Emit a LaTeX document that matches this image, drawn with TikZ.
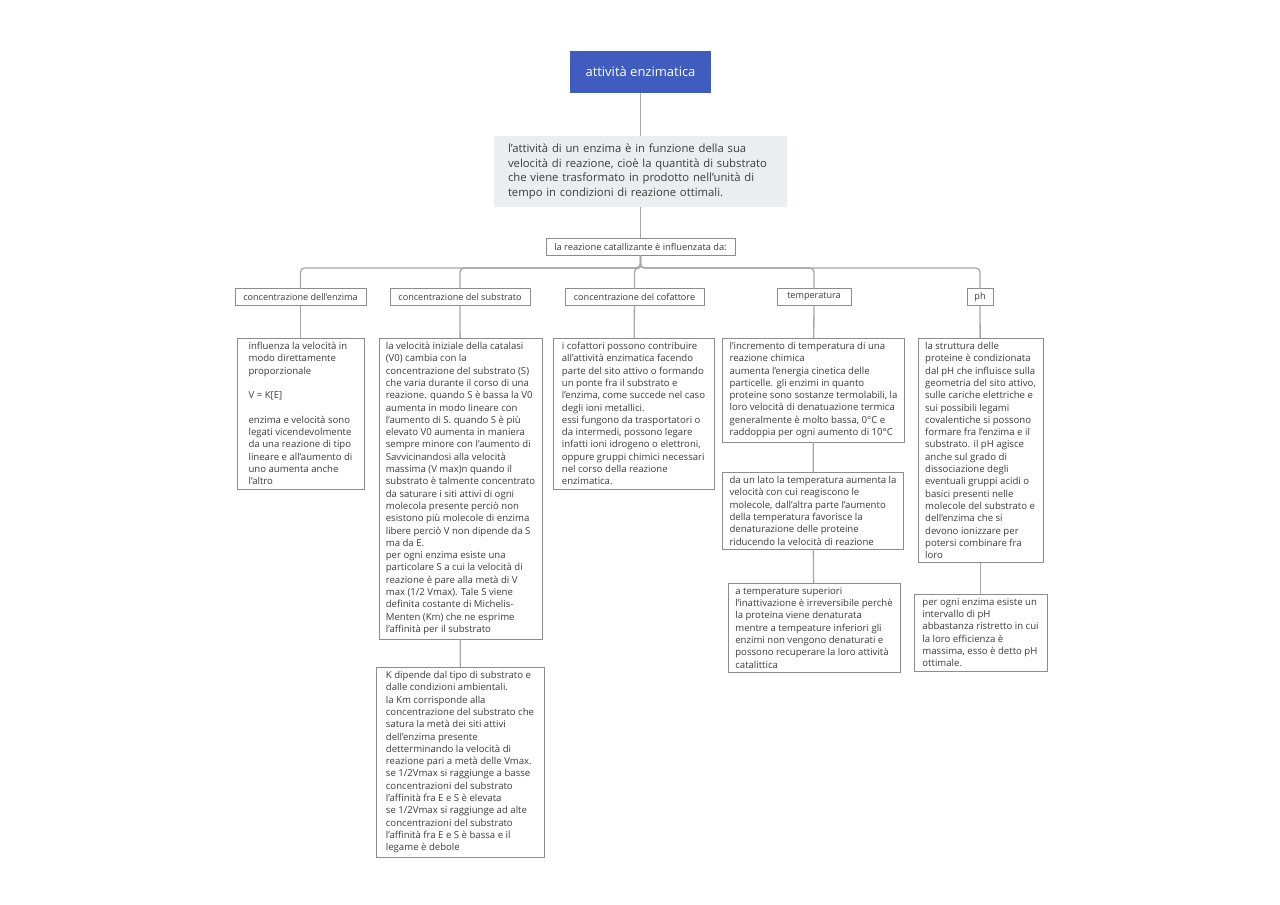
\documentclass[tikz,border=0pt]{standalone}
\usepackage{fontspec}
\setmainfont{Open Sans}
\definecolor{titleblue}{RGB}{64,92,190}
\definecolor{introgray}{RGB}{236,237,241}
\definecolor{boxgray}{RGB}{140,140,140}
\definecolor{linegray}{RGB}{166,166,166}
\definecolor{txtgray}{RGB}{60,60,60}
\begin{document}
\begin{tikzpicture}[x=1pt,y=-1pt,
        title/.style={rectangle,fill=titleblue,text=white,inner sep=0pt,
          minimum width=141pt,minimum height=42pt,font=\fontsize{13}{15}\selectfont},
        intro/.style={rectangle,fill=introgray,text=txtgray,align=left,anchor=north,
          inner xsep=14pt,inner ysep=8pt,text width=265pt,font=\fontsize{11.3}{14.5}\selectfont},
        tag/.style={rectangle,draw=boxgray,fill=white,text=txtgray,inner sep=0pt,
          minimum height=17pt,font=\fontsize{9.1}{11}\selectfont},
        note/.style={rectangle,draw=boxgray,fill=white,text=txtgray,align=left,anchor=north,
          inner xsep=7pt,inner ysep=4pt,font=\fontsize{9.6}{12.3}\selectfont},
        conn/.style={draw=linegray,line width=1.3pt}]
      \useasboundingbox (0,0) rectangle (1280,905);
      % root and intro
      \node (root) at (640.5,72) [title] {attività enzimatica};
      \node (intro) at (640.5,136) [intro] {l'attività di un enzima è in funzione della sua\\
        velocità di reazione, cioè la quantità di substrato\\
        che viene trasformato in prodotto nell'unità di\\
        tempo in condizioni di reazione ottimali.};
      \node (lab) at (640.5,247) [tag,minimum width=189pt,font=\fontsize{9.3}{11}\selectfont] {la reazione catallizante è influenzata da:};
      \coordinate (bus) at (640.5,268);
      % factors
      \node (hE) at (300.5,297) [tag,minimum width=131pt] {concentrazione dell'enzima};
      \node (hS) at (460,297) [tag,minimum width=140pt] {concentrazione del substrato};
      \node (hC) at (634.5,297) [tag,minimum width=139pt] {concentrazione del cofattore};
      \node (hT) at (814,297) [tag,minimum width=74pt] {temperatura};
      \node (hP) at (980,297) [tag,minimum width=26pt] {ph};
      % notes
      \node (bE) at (300.5,338) [note,minimum width=127pt] {influenza la velocità in\\
        modo direttamente\\
        proporzionale\\[12.3pt]
        V = K[E]\\[12.3pt]
        enzima e velocità sono\\
        legati vicendevolmente\\
        da una reazione di tipo\\
        lineare e all'aumento di\\
        uno aumenta anche\\
        l'altro};
      \node (bS1) at (460.5,338) [note,minimum width=161pt] {la velocità iniziale della catalasi\\
        (V0) cambia con la\\
        concentrazione del substrato (S)\\
        che varia durante il corso di una\\
        reazione. quando S è bassa la V0\\
        aumenta in modo lineare con\\
        l'aumento di S. quando S è più\\
        elevato V0 aumenta in maniera\\
        sempre minore con l'aumento di\\
        Savvicinandosi alla velocità\\
        massima (V max)n quando il\\
        substrato è talmente concentrato\\
        da saturare i siti attivi di ogni\\
        molecola presente perciò non\\
        esistono più molecole di enzima\\
        libere perciò V non dipende da S\\
        ma da E.\\
        per ogni enzima esiste una\\
        particolare S a cui la velocità di\\
        reazione è pare alla metà di V\\
        max (1/2 Vmax). Tale S viene\\
        definita costante di Michelis-\\
        Menten (Km) che ne esprime\\
        l'affinità per il substrato};
      \node (bS2) at (460,667) [note,minimum width=168pt] {K dipende dal tipo di substrato e\\
        dalle condizioni ambientali.\\
        la Km corrisponde alla\\
        concentrazione del substrato che\\
        satura la metà dei siti attivi\\
        dell'enzima presente\\
        detterminando la velocità di\\
        reazione pari a metà delle Vmax.\\
        se 1/2Vmax si raggiunge a basse\\
        concentrazioni del substrato\\
        l'affinità fra E e S è elevata\\
        se 1/2Vmax si raggiunge ad alte\\
        concentrazioni del substrato\\
        l'affinità fra E e S è bassa e il\\
        legame è debole};
      \node (bC) at (633.5,338) [note,minimum width=161pt] {i cofattori possono contribuire\\
        all'attività enzimatica facendo\\
        parte del sito attivo o formando\\
        un ponte fra il substrato e\\
        l'enzima, come succede nel caso\\
        degli ioni metallici.\\
        essi fungono da trasportatori o\\
        da intermedi, possono legare\\
        infatti ioni idrogeno o elettroni,\\
        oppure gruppi chimici necessari\\
        nel corso della reazione\\
        enzimatica.};
      \node (bT1) at (813.5,338) [note,minimum width=179pt] {l'incremento di temperatura di una\\
        reazione chimica\\
        aumenta l'energia cinetica delle\\
        particelle. gli enzimi in quanto\\
        proteine sono sostanze termolabili, la\\
        loro velocità di denatuazione termica\\
        generalmente è molto bassa, 0°C e\\
        raddoppia per ogni aumento di 10°C};
      \node (bT2) at (813,472) [note,minimum width=178pt] {da un lato la temperatura aumenta la\\
        velocità con cui reagiscono le\\
        molecole, dall'altra parte l'aumento\\
        della temperatura favorisce la\\
        denaturazione delle proteine\\
        riducendo la velocità di reazione};
      \node (bT3) at (814,583) [note,minimum width=172pt] {a temperature superiori\\
        l'inattivazione è irreversibile perchè\\
        la proteina viene denaturata\\
        mentre a tempeature inferiori gli\\
        enzimi non vengono denaturati e\\
        possono recuperare la loro attività\\
        catalittica};
      \node (bP1) at (980.5,338) [note,minimum width=125pt] {la struttura delle\\
        proteine è condizionata\\
        dal pH che influisce sulla\\
        geometria del sito attivo,\\
        sulle cariche elettriche e\\
        sui possibili legami\\
        covalentiche si possono\\
        formare fra l'enzima e il\\
        substrato. il pH agisce\\
        anche sul grado di\\
        dissociazione degli\\
        eventuali gruppi acidi o\\
        basici presenti nelle\\
        molecole del substrato e\\
        dell'enzima che si\\
        devono ionizzare per\\
        potersi combinare fra\\
        loro};
      \node (bP2) at (980.5,594) [note,minimum width=133pt] {per ogni enzima esiste un\\
        intervallo di pH\\
        abbastanza ristretto in cui\\
        la loro efficienza è\\
        massima, esso è detto pH\\
        ottimale.};
      % connectors
      \draw (root) edge[conn] (intro);
      \draw (intro) edge[conn] (lab);
      \foreach \h in {hE,hS,hC,hT,hP}
        \draw[conn,rounded corners=4pt] (lab.south) -- (bus) -| (\h.north);
      \draw (hE) edge[conn] (bE);
      \draw (hS) edge[conn] (bS1);
      \draw (bS1) edge[conn] (bS2);
      \draw (hC) edge[conn] (bC);
      \draw (hT) edge[conn] (bT1);
      \draw (bT1) edge[conn] (bT2);
      \draw (bT2) edge[conn] (bT3);
      \draw (hP) edge[conn] (bP1);
      \draw (bP1) edge[conn] (bP2);
\end{tikzpicture}
\end{document}
